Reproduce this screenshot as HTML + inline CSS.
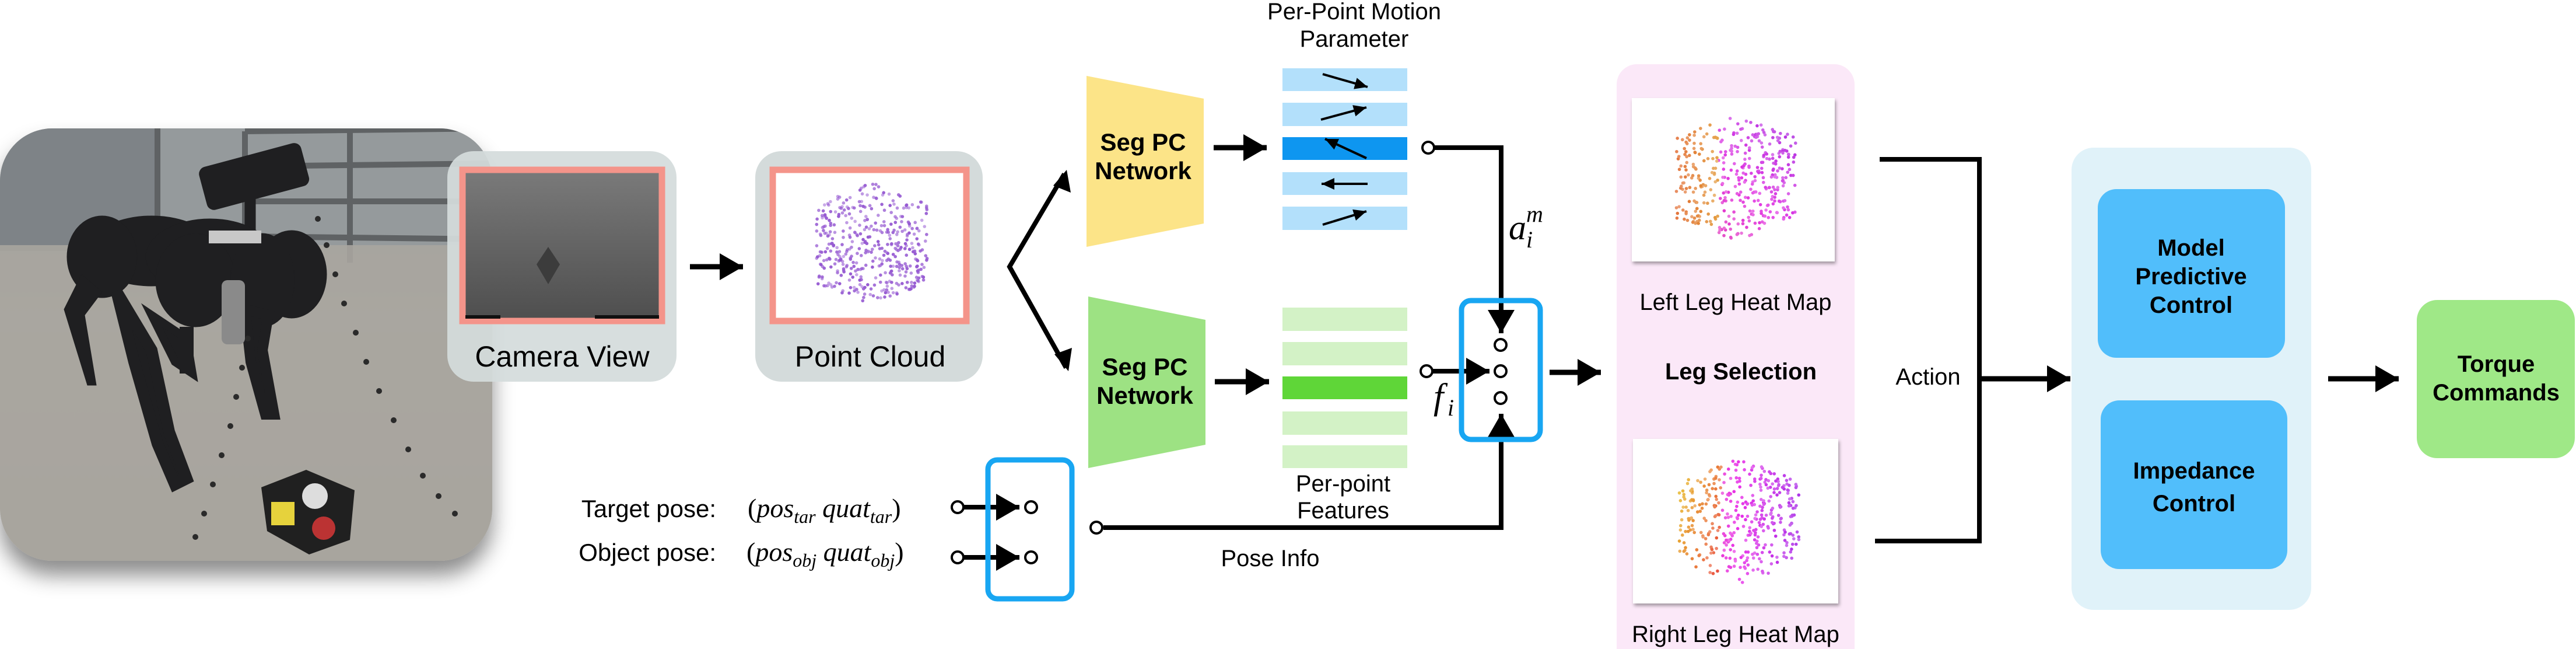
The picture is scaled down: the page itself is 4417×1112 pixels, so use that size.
<!DOCTYPE html>
<html><head><meta charset="utf-8"><style>
html,body{margin:0;padding:0;background:#fff;}
svg{display:block;}
text{font-family:"Liberation Sans",Arial,sans-serif;}
.b{font-weight:bold;}
.m{font-family:"Liberation Serif",serif;font-style:italic;}
</style></head><body>
<svg id="s" width="4417" height="1112" viewBox="0 0 4417 1112" xmlns="http://www.w3.org/2000/svg">
<defs>
<marker id="ah" markerWidth="40" markerHeight="46" refX="40" refY="23" orient="auto" markerUnits="userSpaceOnUse"><path d="M0,0 L40,23 L0,46 z" fill="#000"/></marker>
<marker id="as" markerWidth="22" markerHeight="20" refX="22" refY="10" orient="auto" markerUnits="userSpaceOnUse"><path d="M0,0 L22,10 L0,20 z" fill="#000"/></marker>
<linearGradient id="wall" x1="0" y1="0" x2="0" y2="1"><stop offset="0" stop-color="#868a8c"/><stop offset="0.35" stop-color="#a2a5a6"/><stop offset="0.45" stop-color="#b0ada8"/><stop offset="1" stop-color="#a29e98"/></linearGradient>
<linearGradient id="cam" x1="0" y1="0" x2="0" y2="1"><stop offset="0" stop-color="#7a7a7a"/><stop offset="1" stop-color="#4e4e4e"/></linearGradient>
<filter id="sh" x="-10%" y="-10%" width="130%" height="130%"><feDropShadow dx="0" dy="25" stdDeviation="18" flood-color="#000" flood-opacity="0.45"/></filter>
<filter id="sh2" x="-10%" y="-10%" width="120%" height="120%"><feDropShadow dx="2" dy="4" stdDeviation="3" flood-color="#000" flood-opacity="0.35"/></filter>
<clipPath id="pc"><rect x="0" y="220" width="844" height="741" rx="90"/></clipPath>
</defs>

<!-- Photo -->
<g filter="url(#sh)"><rect x="0" y="220" width="844" height="741" rx="90" fill="url(#wall)"/></g>
<g clip-path="url(#pc)">
 <rect x="0" y="220" width="844" height="200" fill="#959a9c"/>
 <rect x="0" y="220" width="270" height="210" fill="#7e8387"/>
 <g stroke="#5f6264" stroke-width="10" fill="none">
  <line x1="420" y1="225" x2="844" y2="220"/><line x1="420" y1="285" x2="844" y2="280"/><line x1="420" y1="345" x2="844" y2="345"/><line x1="420" y1="405" x2="844" y2="410"/>
  <line x1="420" y1="225" x2="420" y2="440"/><line x1="600" y1="222" x2="600" y2="450"/><line x1="270" y1="220" x2="270" y2="430"/>
 </g>
 <rect x="0" y="420" width="844" height="560" fill="#a9a59f" opacity="0.9"/>
 <g fill="#1f1f21" stroke="#1f1f21">
  <rect x="345" y="265" width="180" height="75" rx="12" transform="rotate(-15 435 300)"/>
  <rect x="420" y="330" width="18" height="70"/>
  <ellipse cx="260" cy="430" rx="110" ry="60"/>
  <ellipse cx="360" cy="440" rx="110" ry="65"/>
  <ellipse cx="175" cy="440" rx="60" ry="70"/>
  <ellipse cx="335" cy="480" rx="68" ry="80"/>
  <ellipse cx="500" cy="470" rx="60" ry="75"/>
  <ellipse cx="450" cy="480" rx="55" ry="80"/>
  <path d="M140,470 L110,530 L150,660 L165,660 L145,540 L175,500z"/>
  <path d="M200,500 L230,620 L270,760 L300,830 L320,820 L290,740 L260,600z" stroke-width="20"/>
  <path d="M420,530 L430,620 L455,710 L470,710 L450,600 L460,540z" stroke-width="18"/>
  <path d="M260,540 L300,620 L330,640 L320,580z" stroke-width="14"/>
  <path d="M320,560 L320,640" stroke-width="24"/>
 </g>
 <rect x="358" y="395" width="90" height="22" fill="#c8c8c8"/>
 <rect x="380" y="480" width="40" height="110" fill="#8a8a8a" rx="10"/>
 <g fill="#2a2a2a">
  <circle cx="545" cy="375" r="5"/><circle cx="560" cy="420" r="5"/><circle cx="575" cy="470" r="5"/><circle cx="590" cy="520" r="5"/><circle cx="610" cy="570" r="5"/><circle cx="628" cy="620" r="5"/><circle cx="650" cy="670" r="5"/><circle cx="675" cy="720" r="5"/><circle cx="700" cy="770" r="5"/><circle cx="725" cy="815" r="5"/><circle cx="752" cy="850" r="5"/><circle cx="780" cy="880" r="5"/>
  <circle cx="425" cy="580" r="5"/><circle cx="415" cy="630" r="5"/><circle cx="405" cy="680" r="5"/><circle cx="395" cy="730" r="5"/><circle cx="380" cy="780" r="5"/><circle cx="365" cy="830" r="5"/><circle cx="350" cy="880" r="5"/><circle cx="335" cy="920" r="5"/>
 </g>
 <path d="M448,835 L525,805 L608,840 L600,925 L530,950 L458,910z" fill="#202020"/>
 <circle cx="540" cy="850" r="22" fill="#ddd"/><rect x="465" y="860" width="40" height="40" fill="#e6d23c"/><circle cx="555" cy="905" r="20" fill="#b33"/>
</g>

<!-- Camera view -->
<rect x="767" y="259" width="393" height="395" rx="45" fill="#d4dbdb" opacity="0.93"/>
<rect x="793" y="291" width="342" height="259" fill="url(#cam)" stroke="#f4948a" stroke-width="11"/>
<path d="M940,423 L960,453 L940,487 L920,453z" fill="#3c3c3c"/>
<rect x="798" y="540" width="60" height="6" fill="#111"/><rect x="1020" y="540" width="110" height="6" fill="#111"/>
<text x="964" y="628" font-size="50" text-anchor="middle">Camera View</text>

<line x1="1183" y1="457" x2="1274" y2="457" stroke="#000" stroke-width="9" marker-end="url(#ah)"/>

<!-- Point cloud -->
<rect x="1295" y="259" width="390" height="395" rx="45" fill="#d4dbdb"/>
<rect x="1325" y="291" width="332" height="259" fill="#fff" stroke="#f4948a" stroke-width="11"/>
<g id="pc1"></g>
<text x="1492" y="628" font-size="50" text-anchor="middle">Point Cloud</text>

<!-- fork -->
<polyline points="1825,298 1731,457 1828,630" fill="none" stroke="#000" stroke-width="8" stroke-linejoin="miter"/>
<polygon points="1829,291 1836,330 1806,318" fill="#000"/>
<polygon points="1832,636 1808,607 1838,596" fill="#000"/>

<!-- Seg PC -->
<polygon points="1863,130 2064,169 2064,383 1863,423" fill="#fce488"/>
<text class="b" x="1960" y="258" font-size="42" text-anchor="middle">Seg PC</text>
<text class="b" x="1960" y="307" font-size="42" text-anchor="middle">Network</text>
<polygon points="1866,508 2067,548 2067,762 1866,802" fill="#9de283"/>
<text class="b" x="1963" y="643" font-size="42" text-anchor="middle">Seg PC</text>
<text class="b" x="1963" y="692" font-size="42" text-anchor="middle">Network</text>

<line x1="2081" y1="253" x2="2172" y2="253" stroke="#000" stroke-width="9" marker-end="url(#ah)"/>
<line x1="2083" y1="654" x2="2176" y2="654" stroke="#000" stroke-width="9" marker-end="url(#ah)"/>

<text x="2322" y="33" font-size="40" text-anchor="middle">Per-Point Motion</text>
<text x="2322" y="80" font-size="40" text-anchor="middle">Parameter</text>
<rect x="2199" y="117" width="214" height="39" fill="#b3e0fb"/>
<rect x="2199" y="176" width="214" height="40" fill="#b3e0fb"/>
<rect x="2199" y="235" width="214" height="39" fill="#0e96f0"/>
<rect x="2199" y="295" width="214" height="39" fill="#b3e0fb"/>
<rect x="2199" y="354" width="214" height="40" fill="#b3e0fb"/>
<g stroke="#000" stroke-width="4" marker-end="url(#as)">
 <line x1="2268" y1="127" x2="2345" y2="149"/>
 <line x1="2265" y1="205" x2="2343" y2="184"/>
 <line x1="2343" y1="271" x2="2272" y2="238"/>
 <line x1="2345" y1="315" x2="2266" y2="315"/>
 <line x1="2268" y1="385" x2="2343" y2="362"/>
</g>

<rect x="2199" y="527" width="214" height="40" fill="#d3f2c6"/>
<rect x="2199" y="586" width="214" height="40" fill="#d3f2c6"/>
<rect x="2199" y="645" width="214" height="39" fill="#5fd638"/>
<rect x="2199" y="705" width="214" height="40" fill="#d3f2c6"/>
<rect x="2199" y="763" width="214" height="39" fill="#d3f2c6"/>
<text x="2303" y="842" font-size="40" text-anchor="middle">Per-point</text>
<text x="2303" y="888" font-size="40" text-anchor="middle">Features</text>

<!-- connectors -->
<polyline points="2460,253 2574,253 2574,571" fill="none" stroke="#000" stroke-width="8" marker-end="url(#ah)"/>
<line x1="2457" y1="636" x2="2554" y2="636" stroke="#000" stroke-width="8" marker-end="url(#ah)"/>
<polyline points="1892,904 2574,904 2574,709" fill="none" stroke="#000" stroke-width="8" marker-end="url(#ah)"/>
<line x1="1653" y1="869" x2="1748" y2="869" stroke="#000" stroke-width="8" marker-end="url(#ah)"/>
<line x1="1653" y1="955" x2="1748" y2="955" stroke="#000" stroke-width="8" marker-end="url(#ah)"/>
<g fill="#fff" stroke="#000" stroke-width="4">
 <circle cx="2449" cy="253" r="10"/>
 <circle cx="2446" cy="636" r="10"/>
 <circle cx="1880" cy="904" r="10"/>
 <circle cx="2573" cy="591" r="10"/><circle cx="2573" cy="636" r="10"/><circle cx="2573" cy="682" r="10"/>
 <circle cx="1642" cy="869" r="10"/><circle cx="1768" cy="869" r="10"/>
 <circle cx="1642" cy="955" r="10"/><circle cx="1768" cy="955" r="10"/>
</g>

<rect x="2506" y="515" width="135" height="238" rx="16" fill="none" stroke="#18a6f2" stroke-width="9"/>
<rect x="1694" y="788" width="144" height="238" rx="16" fill="none" stroke="#18a6f2" stroke-width="9"/>

<text class="m" x="2587" y="410" font-size="60">a</text>
<text class="m" x="2617" y="424" font-size="40">i</text>
<text class="m" x="2617" y="380" font-size="40">m</text>
<text class="m" x="2458" y="700" font-size="62">f</text>
<text class="m" x="2482" y="712" font-size="40">i</text>

<text x="2178" y="970" font-size="40" text-anchor="middle">Pose Info</text>

<text x="1228" y="886" font-size="42" text-anchor="end">Target pose:</text>
<text x="1228" y="961" font-size="42" text-anchor="end">Object pose:</text>
<text class="m" x="1282" y="886" font-size="46" style="font-style:normal">(<tspan font-style="italic">pos</tspan><tspan font-style="italic" font-size="32" dy="10">tar</tspan><tspan dy="-10"> </tspan><tspan font-style="italic"> quat</tspan><tspan font-style="italic" font-size="32" dy="10">tar</tspan><tspan dy="-10">)</tspan></text>
<text class="m" x="1280" y="961" font-size="46" style="font-style:normal">(<tspan font-style="italic">pos</tspan><tspan font-style="italic" font-size="32" dy="10">obj</tspan><tspan dy="-10"> </tspan><tspan font-style="italic"> quat</tspan><tspan font-style="italic" font-size="32" dy="10">obj</tspan><tspan dy="-10">)</tspan></text>

<line x1="2657" y1="638" x2="2745" y2="638" stroke="#000" stroke-width="9" marker-end="url(#ah)"/>

<!-- pink panel -->
<rect x="2772" y="110" width="408" height="1040" rx="35" fill="#fbe8f8"/>
<rect x="2798" y="168" width="348" height="280" fill="#fff" filter="url(#sh2)"/>
<rect x="2800" y="752" width="352" height="282" fill="#fff" filter="url(#sh2)"/>
<g id="hm"></g>
<text x="2976" y="531" font-size="40" text-anchor="middle">Left Leg Heat Map</text>
<text class="b" x="2985" y="650" font-size="40" text-anchor="middle">Leg Selection</text>
<text x="2976" y="1100" font-size="40" text-anchor="middle">Right Leg Heat Map</text>

<!-- bracket -->
<polyline points="3223,273 3394,273 3394,927 3215,927" fill="none" stroke="#000" stroke-width="8"/>
<line x1="3394" y1="649" x2="3550" y2="649" stroke="#000" stroke-width="9" marker-end="url(#ah)"/>
<text x="3306" y="659" font-size="40" text-anchor="middle">Action</text>

<rect x="3552" y="253" width="411" height="792" rx="38" fill="#e0f2f9"/>
<rect x="3597" y="324" width="321" height="289" rx="32" fill="#51befb"/>
<rect x="3602" y="686" width="320" height="289" rx="32" fill="#51befb"/>
<text class="b" x="3757" y="438" font-size="40" text-anchor="middle">Model</text>
<text class="b" x="3757" y="487" font-size="40" text-anchor="middle">Predictive</text>
<text class="b" x="3757" y="536" font-size="40" text-anchor="middle">Control</text>
<text class="b" x="3762" y="820" font-size="40" text-anchor="middle">Impedance</text>
<text class="b" x="3762" y="876" font-size="40" text-anchor="middle">Control</text>

<line x1="3992" y1="649" x2="4113" y2="649" stroke="#000" stroke-width="9" marker-end="url(#ah)"/>
<rect x="4144" y="514" width="271" height="271" rx="35" fill="#9fe887"/>
<text class="b" x="4280" y="637" font-size="40" text-anchor="middle">Torque</text>
<text class="b" x="4280" y="686" font-size="40" text-anchor="middle">Commands</text>
</svg>
<script>
(function(){
var NS="http://www.w3.org/2000/svg";
var seed=7;function r(){seed=(seed*16807)%2147483647;return seed/2147483647;}
function inHex(u,v){ // u,v in [-0.5,0.5]; cube-ish hexagon with pointed top/bottom
 var a=Math.abs(u); return Math.abs(v) <= 0.5 - a*0.35;
}
function cloud(g,cx,cy,w,h,n,colf){
 var k=0;
 while(k<n){
  var u=r()-0.5, v=r()-0.5;
  if(!inHex(u,v)) continue;
  k++;
  var c=document.createElementNS(NS,"circle");
  c.setAttribute("cx",cx+u*w);c.setAttribute("cy",cy+v*h);
  c.setAttribute("r",2.8);c.setAttribute("fill",colf(u+0.5,v+0.5));
  g.appendChild(c);
 }
}
cloud(document.getElementById("pc1"),1495,418,190,210,420,function(){return "rgba(150,90,210,"+(0.5+r()*0.5)+")";});
var hm=document.getElementById("hm");
cloud(hm,2977,305,205,215,380,function(u,v){return "hsl("+((u<0.35)?(20+u*40):(300-u*20+v*20))+",75%,"+(55+r()*15)+"%)";});
cloud(hm,2982,893,205,215,380,function(u,v){return "hsl("+((u<0.35)?(50-u*80-v*20):(320-u*40))+",80%,"+(55+r()*15)+"%)";});
})();
</script>
</body></html>
